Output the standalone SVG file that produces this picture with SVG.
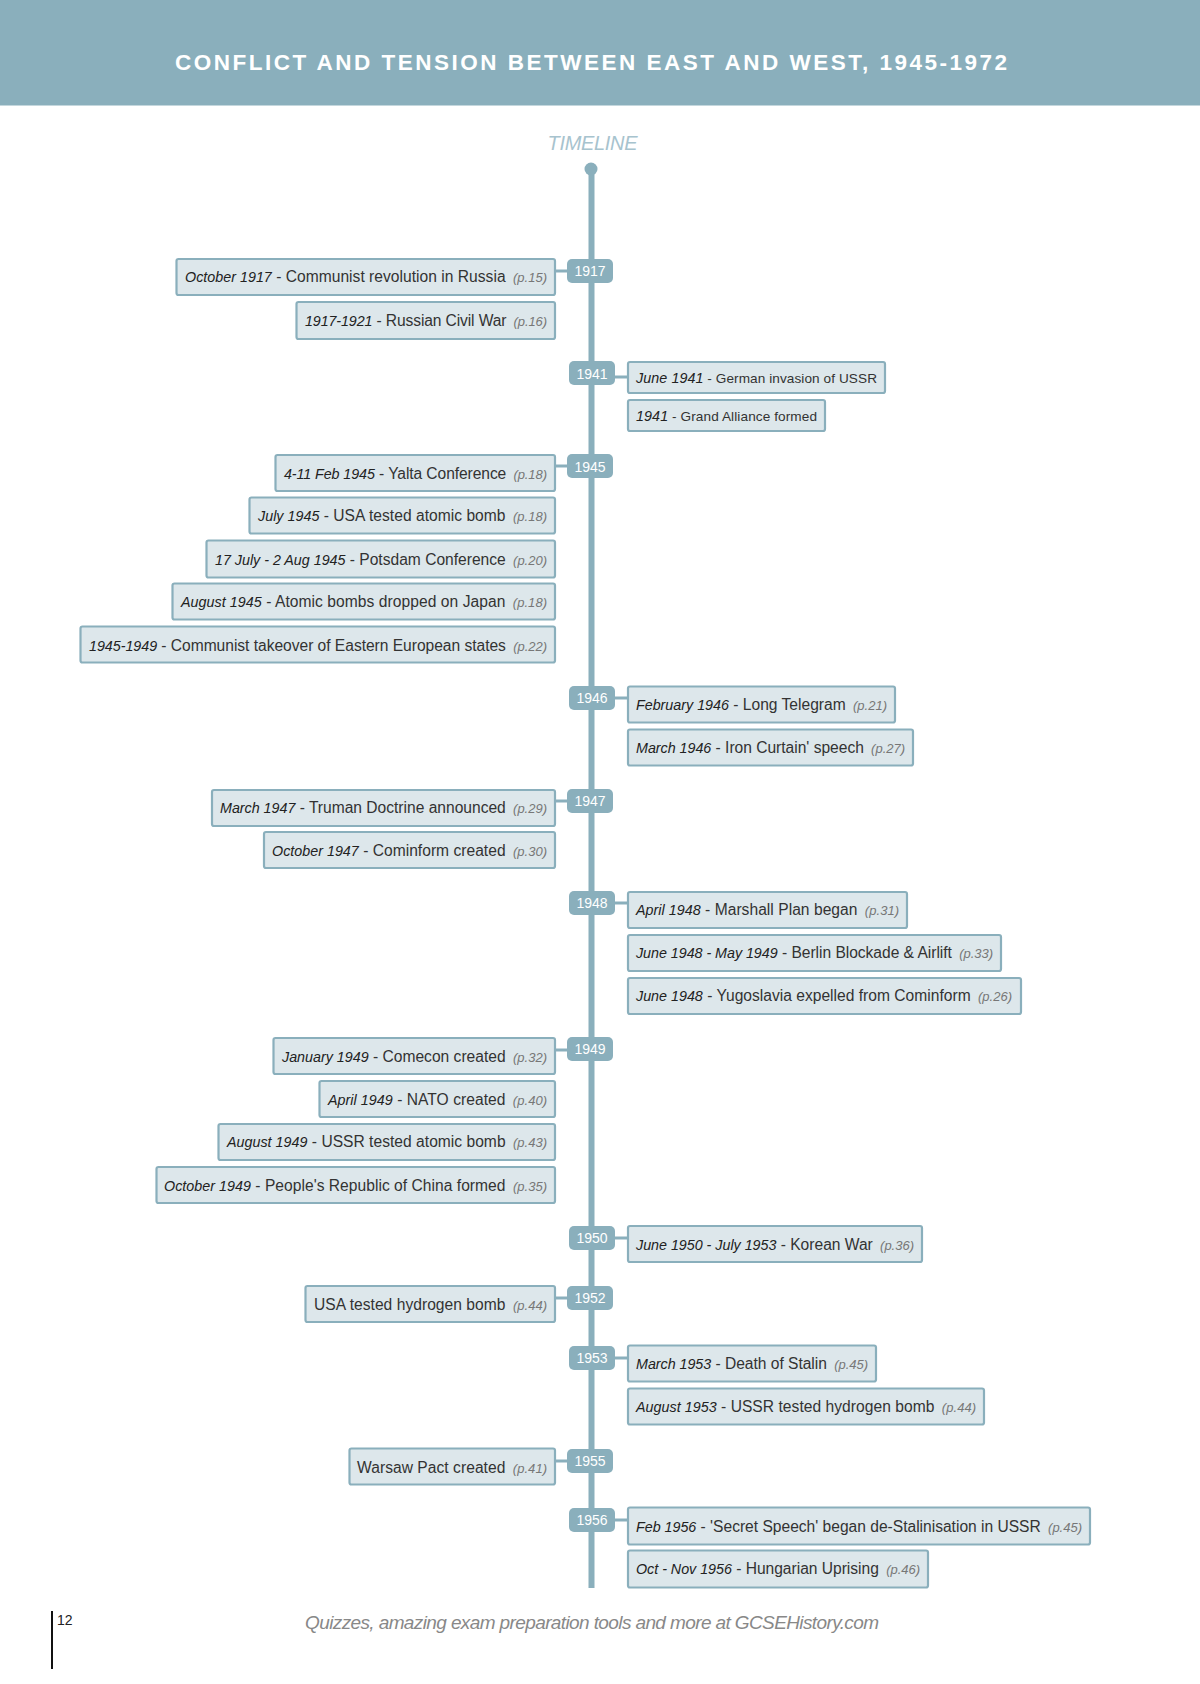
<svg xmlns="http://www.w3.org/2000/svg" width="1200" height="1684" viewBox="0 0 1200 1684">
<style>
text{font-family:"Liberation Sans",Arial,sans-serif}
.b{fill:#dde7eb;stroke:#8aafbc;stroke-width:2.2}
.y{fill:#8aafbc}
.yt{fill:#fff;font-size:14px;text-anchor:middle}
.t{fill:#333;font-size:15.6px}
.s{font-size:13.6px}
.d{font-style:italic;font-size:14.3px;fill:#222}
.p{font-style:italic;font-size:13px;fill:#777}
.c{stroke:#8aafbc;stroke-width:3;fill:none}
</style>
<rect id="header" x="0" y="0" width="1200" height="105.5" fill="#8aafbc"/>
<text id="title" x="591" y="70" font-size="22.5" font-weight="bold" fill="#fff" text-anchor="middle" textLength="832" lengthAdjust="spacing">CONFLICT AND TENSION BETWEEN EAST AND WEST, 1945-1972</text>
<text id="timeline-label" x="592.5" y="149.5" font-size="20" font-style="italic" fill="#a7c3ce" text-anchor="middle" textLength="90" lengthAdjust="spacing">TIMELINE</text>
<g id="connectors">
<line class="c" x1="591.5" y1="169" x2="591.5" y2="1588" style="stroke-width:6"/>
<circle cx="591" cy="169" r="6.5" fill="#8aafbc"/>
<line class="c" x1="555" y1="271" x2="570" y2="271"/>
<line class="c" x1="610" y1="377" x2="628" y2="377"/>
<line class="c" x1="555" y1="466" x2="570" y2="466"/>
<line class="c" x1="610" y1="698" x2="628" y2="698"/>
<line class="c" x1="555" y1="801" x2="570" y2="801"/>
<line class="c" x1="610" y1="903" x2="628" y2="903"/>
<line class="c" x1="555" y1="1050" x2="570" y2="1050"/>
<line class="c" x1="610" y1="1238" x2="628" y2="1238"/>
<line class="c" x1="555" y1="1298" x2="570" y2="1298"/>
<line class="c" x1="610" y1="1358" x2="628" y2="1358"/>
<line class="c" x1="555" y1="1461" x2="570" y2="1461"/>
<line class="c" x1="610" y1="1520" x2="628" y2="1520"/>
</g>
<g id="y1917"><rect class="y" x="567" y="259" width="46" height="24" rx="5"/><text class="yt" x="590" y="275.5">1917</text></g>
<g id="y1941"><rect class="y" x="569" y="361" width="46" height="24" rx="5"/><text class="yt" x="592" y="378.5">1941</text></g>
<g id="y1945"><rect class="y" x="567" y="454" width="46" height="24" rx="5"/><text class="yt" x="590" y="471.5">1945</text></g>
<g id="y1946"><rect class="y" x="569" y="686" width="46" height="24" rx="5"/><text class="yt" x="592" y="703">1946</text></g>
<g id="y1947"><rect class="y" x="567" y="789" width="46" height="24" rx="5"/><text class="yt" x="590" y="806">1947</text></g>
<g id="y1948"><rect class="y" x="569" y="891" width="46" height="24" rx="5"/><text class="yt" x="592" y="908">1948</text></g>
<g id="y1949"><rect class="y" x="567" y="1037" width="46" height="24" rx="5"/><text class="yt" x="590" y="1054">1949</text></g>
<g id="y1950"><rect class="y" x="569" y="1226" width="46" height="24" rx="5"/><text class="yt" x="592" y="1243">1950</text></g>
<g id="y1952"><rect class="y" x="567" y="1286" width="46" height="24" rx="5"/><text class="yt" x="590" y="1303">1952</text></g>
<g id="y1953"><rect class="y" x="569" y="1346" width="46" height="24" rx="5"/><text class="yt" x="592" y="1363">1953</text></g>
<g id="y1955"><rect class="y" x="567" y="1449" width="46" height="24" rx="5"/><text class="yt" x="590" y="1466">1955</text></g>
<g id="y1956"><rect class="y" x="569" y="1508" width="46" height="24" rx="5"/><text class="yt" x="592" y="1525">1956</text></g>

<g id="e1"><rect class="b" x="176.5" y="259" width="378.5" height="36" rx="2"/><text class="t" x="185" y="282" textLength="362"><tspan class="d">October 1917</tspan> - Communist revolution in Russia <tspan class="p" dx="3">(p.15)</tspan></text></g>
<g id="e2"><rect class="b" x="296.5" y="302" width="258.5" height="37" rx="2"/><text class="t" x="305" y="326" textLength="242"><tspan class="d">1917-1921</tspan> - Russian Civil War <tspan class="p" dx="3">(p.16)</tspan></text></g>
<g id="e3"><rect class="b" x="628" y="362" width="257" height="31" rx="2"/><text class="t s" x="636" y="383" textLength="241"><tspan class="d">June 1941</tspan> - German invasion of USSR</text></g>
<g id="e4"><rect class="b" x="628" y="400" width="197" height="31" rx="2"/><text class="t s" x="636" y="421" textLength="181"><tspan class="d">1941</tspan> - Grand Alliance formed</text></g>
<g id="e5"><rect class="b" x="275.5" y="455" width="279.5" height="36" rx="2"/><text class="t" x="284" y="479" textLength="263"><tspan class="d">4-11 Feb 1945</tspan> - Yalta Conference <tspan class="p" dx="3">(p.18)</tspan></text></g>
<g id="e6"><rect class="b" x="249.5" y="497.5" width="305.5" height="36" rx="2"/><text class="t" x="258" y="521" textLength="289"><tspan class="d">July 1945</tspan> - USA tested atomic bomb <tspan class="p" dx="3">(p.18)</tspan></text></g>
<g id="e7"><rect class="b" x="206.5" y="540.5" width="348.5" height="37" rx="2"/><text class="t" x="215" y="565" textLength="332"><tspan class="d">17 July - 2 Aug 1945</tspan> - Potsdam Conference <tspan class="p" dx="3">(p.20)</tspan></text></g>
<g id="e8"><rect class="b" x="172.5" y="583.5" width="382.5" height="36" rx="2"/><text class="t" x="181" y="607" textLength="366"><tspan class="d">August 1945</tspan> - Atomic bombs dropped on Japan <tspan class="p" dx="3">(p.18)</tspan></text></g>
<g id="e9"><rect class="b" x="80.5" y="626.5" width="474.5" height="36" rx="2"/><text class="t" x="89" y="651" textLength="458"><tspan class="d">1945-1949</tspan> - Communist takeover of Eastern European states <tspan class="p" dx="3">(p.22)</tspan></text></g>
<g id="e10"><rect class="b" x="628" y="686.5" width="267" height="36" rx="2"/><text class="t" x="636" y="710" textLength="251"><tspan class="d">February 1946</tspan> - Long Telegram <tspan class="p" dx="3">(p.21)</tspan></text></g>
<g id="e11"><rect class="b" x="628" y="729.5" width="285" height="36" rx="2"/><text class="t" x="636" y="753" textLength="269"><tspan class="d">March 1946</tspan> - Iron Curtain' speech <tspan class="p" dx="3">(p.27)</tspan></text></g>
<g id="e12"><rect class="b" x="212" y="790" width="343" height="36" rx="2"/><text class="t" x="220" y="813" textLength="327"><tspan class="d">March 1947</tspan> - Truman Doctrine announced <tspan class="p" dx="3">(p.29)</tspan></text></g>
<g id="e13"><rect class="b" x="264" y="832" width="291" height="36" rx="2"/><text class="t" x="272" y="856" textLength="275"><tspan class="d">October 1947</tspan> - Cominform created <tspan class="p" dx="3">(p.30)</tspan></text></g>
<g id="e14"><rect class="b" x="628" y="892" width="279" height="36" rx="2"/><text class="t" x="636" y="915" textLength="263"><tspan class="d">April 1948</tspan> - Marshall Plan began <tspan class="p" dx="3">(p.31)</tspan></text></g>
<g id="e15"><rect class="b" x="628" y="935" width="373" height="36" rx="2"/><text class="t" x="636" y="958" textLength="357"><tspan class="d">June 1948 - May 1949</tspan> - Berlin Blockade &amp; Airlift <tspan class="p" dx="3">(p.33)</tspan></text></g>
<g id="e16"><rect class="b" x="628" y="978" width="393" height="36" rx="2"/><text class="t" x="636" y="1001" textLength="376"><tspan class="d">June 1948</tspan> - Yugoslavia expelled from Cominform <tspan class="p" dx="3">(p.26)</tspan></text></g>
<g id="e17"><rect class="b" x="273.5" y="1038" width="281.5" height="36" rx="2"/><text class="t" x="282" y="1062" textLength="265"><tspan class="d">January 1949</tspan> - Comecon created <tspan class="p" dx="3">(p.32)</tspan></text></g>
<g id="e18"><rect class="b" x="319.5" y="1081" width="235.5" height="36" rx="2"/><text class="t" x="328" y="1104.5" textLength="219"><tspan class="d">April 1949</tspan> - NATO created <tspan class="p" dx="3">(p.40)</tspan></text></g>
<g id="e19"><rect class="b" x="218.5" y="1124" width="336.5" height="36" rx="2"/><text class="t" x="227" y="1147" textLength="320"><tspan class="d">August 1949</tspan> - USSR tested atomic bomb <tspan class="p" dx="3">(p.43)</tspan></text></g>
<g id="e20"><rect class="b" x="156.5" y="1167" width="398.5" height="36" rx="2"/><text class="t" x="164" y="1190.5" textLength="383"><tspan class="d">October 1949</tspan> - People's Republic of China formed <tspan class="p" dx="3">(p.35)</tspan></text></g>
<g id="e21"><rect class="b" x="628" y="1226" width="294" height="36" rx="2"/><text class="t" x="636" y="1250" textLength="278"><tspan class="d">June 1950 - July 1953</tspan> - Korean War <tspan class="p" dx="3">(p.36)</tspan></text></g>
<g id="e22"><rect class="b" x="305.5" y="1286" width="249.5" height="36" rx="2"/><text class="t" x="314" y="1310" textLength="233">USA tested hydrogen bomb <tspan class="p" dx="3">(p.44)</tspan></text></g>
<g id="e23"><rect class="b" x="628" y="1345.5" width="248" height="36" rx="2"/><text class="t" x="636" y="1369" textLength="232"><tspan class="d">March 1953</tspan> - Death of Stalin <tspan class="p" dx="3">(p.45)</tspan></text></g>
<g id="e24"><rect class="b" x="628" y="1388.5" width="356" height="36" rx="2"/><text class="t" x="636" y="1412" textLength="340"><tspan class="d">August 1953</tspan> - USSR tested hydrogen bomb <tspan class="p" dx="3">(p.44)</tspan></text></g>
<g id="e25"><rect class="b" x="349.5" y="1448.5" width="205.5" height="36" rx="2"/><text class="t" x="357" y="1472.5" textLength="190">Warsaw Pact created <tspan class="p" dx="3">(p.41)</tspan></text></g>
<g id="e26"><rect class="b" x="628" y="1507.5" width="462" height="37" rx="2"/><text class="t" x="636" y="1532" textLength="446"><tspan class="d">Feb 1956</tspan> - 'Secret Speech' began de-Stalinisation in USSR <tspan class="p" dx="3">(p.45)</tspan></text></g>
<g id="e27"><rect class="b" x="628" y="1550.5" width="300" height="37" rx="2"/><text class="t" x="636" y="1574" textLength="284"><tspan class="d">Oct - Nov 1956</tspan> - Hungarian Uprising <tspan class="p" dx="3">(p.46)</tspan></text></g>

<g id="footer">
<line x1="52" y1="1611" x2="52" y2="1669" stroke="#111" stroke-width="2"/>
<text x="57" y="1625" font-size="14" fill="#222">12</text>
<text x="592" y="1629" font-size="19" font-style="italic" fill="#888" text-anchor="middle" textLength="574">Quizzes, amazing exam preparation tools and more at GCSEHistory.com</text>
</g>
</svg>
